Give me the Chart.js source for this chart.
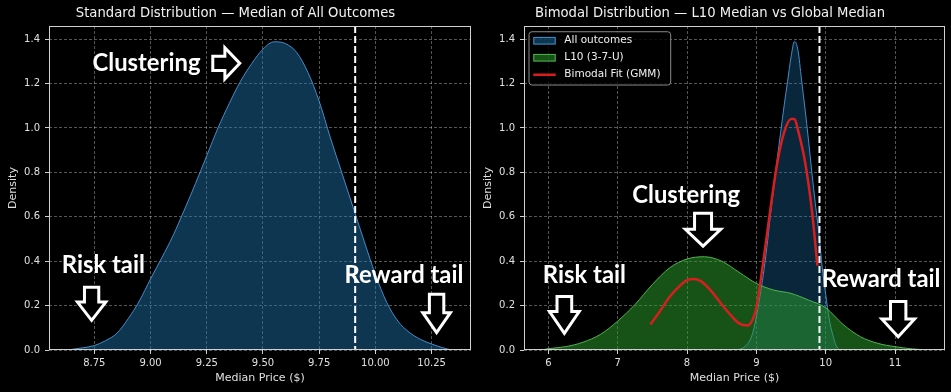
<!DOCTYPE html>
<html><head><meta charset="utf-8">
<script src="https://cdn.jsdelivr.net/npm/chart.js@4"></script>
<style>
html,body{margin:0;padding:0;background:#000;}
#wrap{position:relative;width:951px;height:392px;overflow:hidden;background:#000;}
canvas{position:absolute;top:0;}
</style></head><body>
<div id="wrap">
<canvas id="c1" width="475" height="392" style="left:0"></canvas>
<canvas id="c2" width="476" height="392" style="left:475px"></canvas>
</div>
<script>
// ---- Left panel: standard distribution (all outcomes) ----
const stdX = [8.63, 8.65, 8.70, 8.75, 8.80, 8.85, 8.90, 8.95, 9.00, 9.05, 9.10, 9.15, 9.20, 9.25, 9.30, 9.35, 9.40, 9.45, 9.50, 9.55, 9.60, 9.65, 9.70, 9.75, 9.80, 9.85, 9.90, 9.95, 10.00, 10.05, 10.10, 10.15, 10.20, 10.25, 10.30, 10.34];
const stdY = [0.0, 0.003, 0.01, 0.02, 0.042, 0.075, 0.14, 0.22, 0.32, 0.415, 0.515, 0.63, 0.75, 0.875, 1.00, 1.11, 1.21, 1.29, 1.355, 1.388, 1.38, 1.34, 1.25, 1.12, 0.955, 0.80, 0.645, 0.49, 0.34, 0.215, 0.13, 0.08, 0.048, 0.027, 0.01, 0.0];

// ---- Right panel: all outcomes, L10, GMM fit ----
const allX = [8.70, 8.80, 8.85, 8.90, 8.95, 9.00, 9.05, 9.10, 9.15, 9.20, 9.25, 9.30, 9.35, 9.40, 9.45, 9.50, 9.55, 9.60, 9.65, 9.70, 9.75, 9.80, 9.85, 9.90, 9.95, 10.00, 10.05, 10.10, 10.15, 10.20];
const allY = [0.0, 0.008, 0.02, 0.04, 0.08, 0.15, 0.24, 0.34, 0.46, 0.60, 0.73, 0.86, 0.98, 1.10, 1.21, 1.32, 1.39, 1.35, 1.22, 1.09, 0.95, 0.80, 0.66, 0.53, 0.37, 0.25, 0.14, 0.07, 0.02, 0.0];

const l10X = [5.90, 6.00, 6.25, 6.50, 6.75, 7.00, 7.25, 7.50, 7.75, 8.00, 8.25, 8.50, 8.75, 9.00, 9.25, 9.50, 9.75, 10.00, 10.25, 10.50, 10.75, 11.00, 11.25, 11.47];
const l10Y = [0.0, 0.006, 0.015, 0.035, 0.07, 0.13, 0.205, 0.295, 0.37, 0.41, 0.42, 0.40, 0.35, 0.30, 0.27, 0.255, 0.225, 0.19, 0.115, 0.06, 0.03, 0.015, 0.005, 0.0];

const gmmX = [7.47, 7.60, 7.75, 7.90, 8.00, 8.10, 8.20, 8.35, 8.50, 8.65, 8.75, 8.87, 8.95, 9.00, 9.10, 9.20, 9.30, 9.40, 9.50, 9.55, 9.60, 9.70, 9.80, 9.88];
const gmmY = [0.115, 0.17, 0.24, 0.29, 0.315, 0.32, 0.31, 0.265, 0.205, 0.15, 0.12, 0.11, 0.14, 0.19, 0.40, 0.63, 0.84, 0.98, 1.04, 1.04, 0.99, 0.85, 0.63, 0.38];

const globalMedian = 9.91;

const leftTitle = 'Standard Distribution — Median of All Outcomes';
const rightTitle = 'Bimodal Distribution — L10 Median vs Global Median';
const xLabel = 'Median Price ($)';
const yLabel = 'Density';
const seriesNames = ['All outcomes', 'L10 (3-7-U)', 'Bimodal Fit (GMM)'];

const leftNotes = [
  {text: 'Clustering', x: 8.982, y: 1.257},
  {text: 'Risk tail', x: 8.790, y: 0.345},
  {text: 'Reward tail', x: 10.127, y: 0.303}
];
const leftArrows = [
  {dir: 'right', x: 9.4035, y: 1.291, len: 30, head: 16.4, w: 34.4, shaft: 17.3},
  {dir: 'down', x: 8.738, y: 0.127, len: 36, head: 19.7, w: 31.3, shaft: 17.3},
  {dir: 'down', x: 10.272, y: 0.072, len: 41.3, head: 21.3, w: 30.6, shaft: 17.4}
];
const rightNotes = [
  {text: 'Clustering', x: 7.988, y: 0.661},
  {text: 'Risk tail', x: 6.520, y: 0.300},
  {text: 'Reward tail', x: 10.798, y: 0.285}
];
const rightArrows = [
  {dir: 'down', x: 8.231, y: 0.461, len: 36, head: 18.4, w: 38.4, shaft: 20},
  {dir: 'down', x: 6.231, y: 0.068, len: 40, head: 23.3, w: 32.7, shaft: 17.7},
  {dir: 'down', x: 11.045, y: 0.053, len: 38.3, head: 19.3, w: 35.7, shaft: 18.4}
];

const pts = (xs, ys) => xs.map((x, i) => ({x, y: ys[i]}));

const BLUE_FILL = 'rgba(31,119,180,0.45)';
const BLUE_FILL2 = 'rgba(31,119,180,0.32)';
const BLUE_EDGE = 'rgba(70,145,210,0.95)';
const GREEN_FILL = 'rgba(44,160,44,0.52)';
const GREEN_EDGE = 'rgba(80,185,80,0.95)';
const RED = '#d81e1e';
const FONT = 'DejaVu Sans';

function drawArrow(ctx, tx, ty, a) {
  const lw = 3;
  const L = a.len - lw, H = a.head - lw / 2, W = a.w - lw, S = a.shaft - lw;
  ctx.save();
  ctx.translate(tx, ty);
  ctx.rotate(a.dir === 'right' ? -Math.PI / 2 : 0);
  ctx.translate(0, -lw / 2);
  ctx.beginPath();
  ctx.moveTo(-S / 2, -L);
  ctx.lineTo(S / 2, -L);
  ctx.lineTo(S / 2, -H);
  ctx.lineTo(W / 2, -H);
  ctx.lineTo(0, 0);
  ctx.lineTo(-W / 2, -H);
  ctx.lineTo(-S / 2, -H);
  ctx.closePath();
  ctx.fillStyle = '#000';
  ctx.fill();
  ctx.lineWidth = lw;
  ctx.lineJoin = 'miter';
  ctx.strokeStyle = '#fff';
  ctx.stroke();
  ctx.restore();
}

const decor = {
  id: 'decor',
  afterDatasetsDraw(chart, args, opts) {
    const {ctx, chartArea: a, scales: {x}} = chart;
    ctx.save();
    const px = x.getPixelForValue(opts.median);
    ctx.strokeStyle = '#fff';
    ctx.lineWidth = 2;
    ctx.setLineDash([7, 3]);
    ctx.beginPath();
    ctx.moveTo(px, a.top);
    ctx.lineTo(px, a.bottom);
    ctx.stroke();
    ctx.setLineDash([]);
    ctx.strokeStyle = '#d0d0d0';
    ctx.lineWidth = 1;
    ctx.strokeRect(Math.round(a.left) + 0.5, Math.round(a.top) + 0.5, Math.round(a.right - a.left) - 1, Math.round(a.bottom - a.top) - 1);
    ctx.restore();
  },
  afterDraw(chart, args, opts) {
    const {ctx, chartArea: a, scales: {x, y}} = chart;
    ctx.save();
    if (opts.legend) {
      const bx = a.left + 5, by = a.top + 5.7, bw = 141.7, bh = 53.3, r = 3;
      ctx.beginPath();
      ctx.moveTo(bx + r, by);
      ctx.arcTo(bx + bw, by, bx + bw, by + bh, r);
      ctx.arcTo(bx + bw, by + bh, bx, by + bh, r);
      ctx.arcTo(bx, by + bh, bx, by, r);
      ctx.arcTo(bx, by, bx + bw, by, r);
      ctx.closePath();
      ctx.fillStyle = 'rgba(0,0,0,0.8)';
      ctx.fill();
      ctx.strokeStyle = '#8a8a8a';
      ctx.lineWidth = 1;
      ctx.stroke();
      const items = [
        {type: 'patch', fill: BLUE_FILL, edge: BLUE_EDGE},
        {type: 'patch', fill: GREEN_FILL, edge: GREEN_EDGE},
        {type: 'line', color: RED}
      ];
      ctx.font = '10.5px "' + FONT + '"';
      ctx.textBaseline = 'middle';
      ctx.textAlign = 'left';
      items.forEach((it, i) => {
        const cy = a.top + 14.7 + 17 * i;
        const px0 = a.left + 9.3;
        if (it.type === 'patch') {
          ctx.fillStyle = it.fill;
          ctx.fillRect(px0, cy - 3.8, 22.4, 7.6);
          ctx.strokeStyle = it.edge;
          ctx.lineWidth = 1;
          ctx.strokeRect(px0 + 0.5, cy - 3.8 + 0.5, 21.4, 6.6);
        } else {
          ctx.strokeStyle = it.color;
          ctx.lineWidth = 2.5;
          ctx.beginPath();
          ctx.moveTo(px0, cy);
          ctx.lineTo(px0 + 22.4, cy);
          ctx.stroke();
        }
        ctx.fillStyle = '#f0f0f0';
        ctx.fillText(seriesNames[i], a.left + 40.3, cy);
      });
    }
    ctx.font = 'bold 23px Lato';
    const scale = 108 / ctx.measureText('Clustering').width;
    const fs = 23 * scale;
    ctx.font = 'bold ' + fs.toFixed(2) + 'px Lato';
    ctx.fillStyle = '#fff';
    ctx.textAlign = 'center';
    ctx.textBaseline = 'alphabetic';
    opts.notes.forEach(n => {
      ctx.fillText(n.text, x.getPixelForValue(n.x), y.getPixelForValue(n.y));
    });
    opts.arrows.forEach(ar => {
      drawArrow(ctx, x.getPixelForValue(ar.x), y.getPixelForValue(ar.y), ar);
    });
    ctx.restore();
  }
};

function makeOptions(cfg) {
  return {
    responsive: false,
    animation: false,
    events: [],
    layout: {padding: {left: 0, right: cfg.padRight, top: 0, bottom: 0}},
    plugins: {
      legend: {display: false},
      tooltip: {enabled: false},
      title: {display: true, text: cfg.title, color: '#f2f2f2',
        font: {family: FONT, size: 13.2, weight: 'normal', lineHeight: 1.2},
        padding: {top: 6, bottom: 4.2}},
      decor: {median: globalMedian, notes: cfg.notes, arrows: cfg.arrows, legend: cfg.legend}
    },
    elements: {point: {radius: 0}},
    scales: {
      x: {
        type: 'linear', min: cfg.xMin, max: cfg.xMax,
        ticks: {stepSize: cfg.xStep, includeBounds: false, color: '#e0e0e0', autoSkip: false, maxRotation: 0,
          font: {family: FONT, size: 10}, padding: 3, callback: cfg.fmt},
        grid: {color: 'rgba(255,255,255,0.42)', lineWidth: 0.8, tickLength: 4, tickColor: '#d0d0d0', tickWidth: 1, tickBorderDash: []},
        border: {display: false, dash: [3, 2]},
        title: {display: true, text: xLabel, color: '#e0e0e0', font: {family: FONT, size: 11, lineHeight: 1.2}, padding: {top: 0, bottom: 7.4}},
        afterFit(s) { s.height = 42; }
      },
      y: {
        type: 'linear', min: 0, max: 1.459,
        ticks: {stepSize: 0.2, includeBounds: false, color: '#e0e0e0', font: {family: FONT, size: 10}, padding: 5,
          callback: v => v.toFixed(1)},
        grid: {color: 'rgba(255,255,255,0.42)', lineWidth: 0.8, tickLength: 4, tickColor: '#d0d0d0', tickWidth: 1, tickBorderDash: []},
        border: {display: false, dash: [3, 2]},
        title: {display: true, text: yLabel, color: '#e0e0e0', font: {family: FONT, size: 11, lineHeight: 1.2}, padding: {top: 7, bottom: 0}},
        afterFit(s) { s.width = 49; }
      }
    }
  };
}

new Chart(document.getElementById('c1'), {
  type: 'line',
  data: {datasets: [{
    label: seriesNames[0], data: pts(stdX, stdY), parsing: false,
    borderColor: BLUE_EDGE, borderWidth: 1, backgroundColor: BLUE_FILL,
    fill: 'origin', cubicInterpolationMode: 'monotone'
  }]},
  options: makeOptions({title: leftTitle, xMin: 8.5485, xMax: 10.425, xStep: 0.25, fmt: v => v.toFixed(2),
    padRight: 4, notes: leftNotes, arrows: leftArrows, legend: false}),
  plugins: [decor]
});

new Chart(document.getElementById('c2'), {
  type: 'line',
  data: {datasets: [
    {label: seriesNames[0], data: pts(allX, allY), parsing: false, order: 3,
      borderColor: BLUE_EDGE, borderWidth: 1, backgroundColor: BLUE_FILL2,
      fill: 'origin', cubicInterpolationMode: 'monotone'},
    {label: seriesNames[1], data: pts(l10X, l10Y), parsing: false, order: 2,
      borderColor: GREEN_EDGE, borderWidth: 1, backgroundColor: GREEN_FILL,
      fill: 'origin', cubicInterpolationMode: 'monotone'},
    {label: seriesNames[2], data: pts(gmmX, gmmY), parsing: false, order: 1,
      borderColor: RED, borderWidth: 2.5, fill: false, cubicInterpolationMode: 'monotone'}
  ]},
  options: makeOptions({title: rightTitle, xMin: 5.649, xMax: 11.72, xStep: 1, fmt: v => String(Math.round(v)),
    padRight: 6, notes: rightNotes, arrows: rightArrows, legend: true}),
  plugins: [decor]
});
</script>
</body></html>
